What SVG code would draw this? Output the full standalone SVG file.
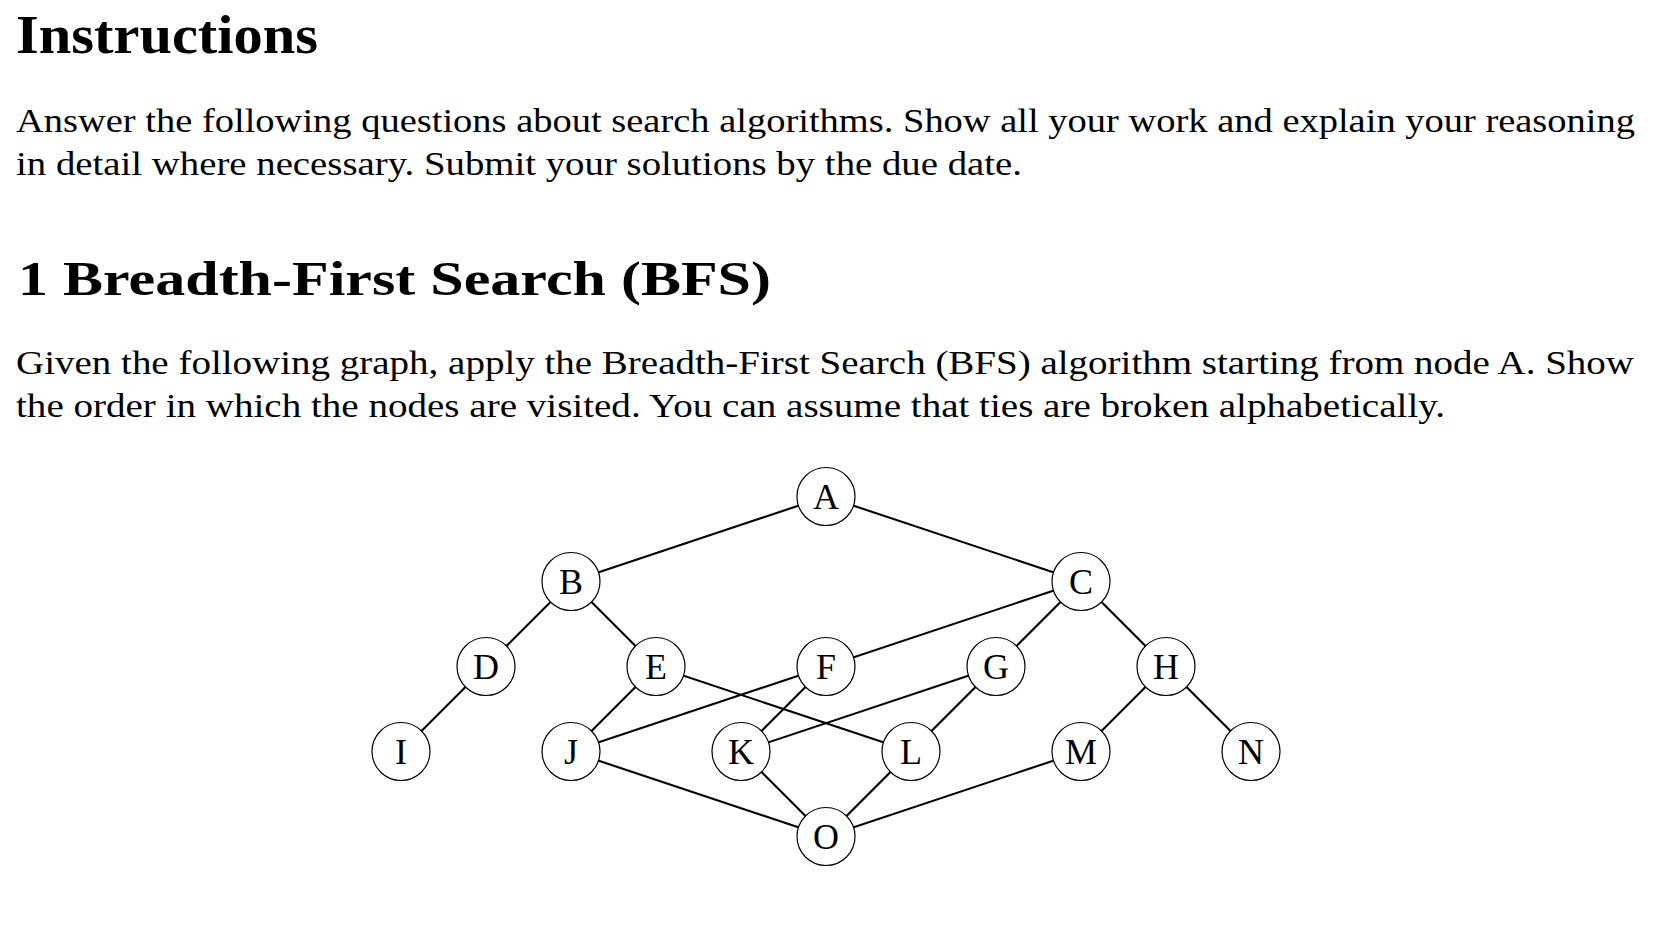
<svg xmlns="http://www.w3.org/2000/svg" width="1664" height="942" viewBox="0 0 1664 942">
<style>
  .h1 { font-family: "Liberation Serif", "DejaVu Serif", serif; font-weight: bold; font-size: 54px; fill: #000; }
  .h2 { font-family: "Liberation Serif", "DejaVu Serif", serif; font-weight: bold; font-size: 49px; fill: #000; }
  .body { font-family: "Liberation Serif", "DejaVu Serif", serif; font-size: 33px; fill: #000; }
  .edge { stroke: #000; stroke-width: 2.1; fill: none; }
  .node circle { fill: #fff; stroke: #000; stroke-width: 1.2; }
  .node text { font-family: "Liberation Serif", "DejaVu Serif", serif; font-size: 36px; fill: #000; text-anchor: middle; }
</style>
<rect width="1664" height="942" fill="#fff"/>
<g id="text">
  <text class="h1" x="16" y="53" textLength="302" lengthAdjust="spacingAndGlyphs">Instructions</text>
  <text class="body" x="16" y="131.5" textLength="1619" lengthAdjust="spacingAndGlyphs">Answer the following questions about search algorithms. Show all your work and explain your reasoning</text>
  <text class="body" x="16" y="175" textLength="1006" lengthAdjust="spacingAndGlyphs">in detail where necessary. Submit your solutions by the due date.</text>
  <text class="h2" x="18" y="295" textLength="753" lengthAdjust="spacingAndGlyphs">1 Breadth-First Search (BFS)</text>
  <text class="body" x="16" y="373.5" textLength="1618" lengthAdjust="spacingAndGlyphs">Given the following graph, apply the Breadth-First Search (BFS) algorithm starting from node A. Show</text>
  <text class="body" x="16" y="417" textLength="1429" lengthAdjust="spacingAndGlyphs">the order in which the nodes are visited. You can assume that ties are broken alphabetically.</text>
</g>
<g id="connectors">
  <line class="edge" x1="826" y1="496.5" x2="571" y2="581.5"/>
  <line class="edge" x1="826" y1="496.5" x2="1081" y2="581.5"/>
  <line class="edge" x1="571" y1="581.5" x2="486" y2="666.5"/>
  <line class="edge" x1="571" y1="581.5" x2="656" y2="666.5"/>
  <line class="edge" x1="1081" y1="581.5" x2="571" y2="751.5"/>
  <line class="edge" x1="1081" y1="581.5" x2="996" y2="666.5"/>
  <line class="edge" x1="1081" y1="581.5" x2="1166" y2="666.5"/>
  <line class="edge" x1="486" y1="666.5" x2="401" y2="751.5"/>
  <line class="edge" x1="656" y1="666.5" x2="571" y2="751.5"/>
  <line class="edge" x1="656" y1="666.5" x2="911" y2="751.5"/>
  <line class="edge" x1="826" y1="666.5" x2="741" y2="751.5"/>
  <line class="edge" x1="996" y1="666.5" x2="741" y2="751.5"/>
  <line class="edge" x1="996" y1="666.5" x2="911" y2="751.5"/>
  <line class="edge" x1="1166" y1="666.5" x2="1081" y2="751.5"/>
  <line class="edge" x1="1166" y1="666.5" x2="1251" y2="751.5"/>
  <line class="edge" x1="571" y1="751.5" x2="826" y2="836.5"/>
  <line class="edge" x1="741" y1="751.5" x2="826" y2="836.5"/>
  <line class="edge" x1="911" y1="751.5" x2="826" y2="836.5"/>
  <line class="edge" x1="1081" y1="751.5" x2="826" y2="836.5"/>
</g>
<g id="node-A" class="node"><circle cx="826" cy="496.5" r="29"/><text x="826" y="509">A</text></g>
<g id="node-B" class="node"><circle cx="571" cy="581.5" r="29"/><text x="571" y="594">B</text></g>
<g id="node-C" class="node"><circle cx="1081" cy="581.5" r="29"/><text x="1081" y="594">C</text></g>
<g id="node-D" class="node"><circle cx="486" cy="666.5" r="29"/><text x="486" y="679">D</text></g>
<g id="node-E" class="node"><circle cx="656" cy="666.5" r="29"/><text x="656" y="679">E</text></g>
<g id="node-F" class="node"><circle cx="826" cy="666.5" r="29"/><text x="826" y="679">F</text></g>
<g id="node-G" class="node"><circle cx="996" cy="666.5" r="29"/><text x="996" y="679">G</text></g>
<g id="node-H" class="node"><circle cx="1166" cy="666.5" r="29"/><text x="1166" y="679">H</text></g>
<g id="node-I" class="node"><circle cx="401" cy="751.5" r="29"/><text x="401" y="764">I</text></g>
<g id="node-J" class="node"><circle cx="571" cy="751.5" r="29"/><text x="571" y="764">J</text></g>
<g id="node-K" class="node"><circle cx="741" cy="751.5" r="29"/><text x="741" y="764">K</text></g>
<g id="node-L" class="node"><circle cx="911" cy="751.5" r="29"/><text x="911" y="764">L</text></g>
<g id="node-M" class="node"><circle cx="1081" cy="751.5" r="29"/><text x="1081" y="764">M</text></g>
<g id="node-N" class="node"><circle cx="1251" cy="751.5" r="29"/><text x="1251" y="764">N</text></g>
<g id="node-O" class="node"><circle cx="826" cy="836.5" r="29"/><text x="826" y="849">O</text></g>
</svg>
